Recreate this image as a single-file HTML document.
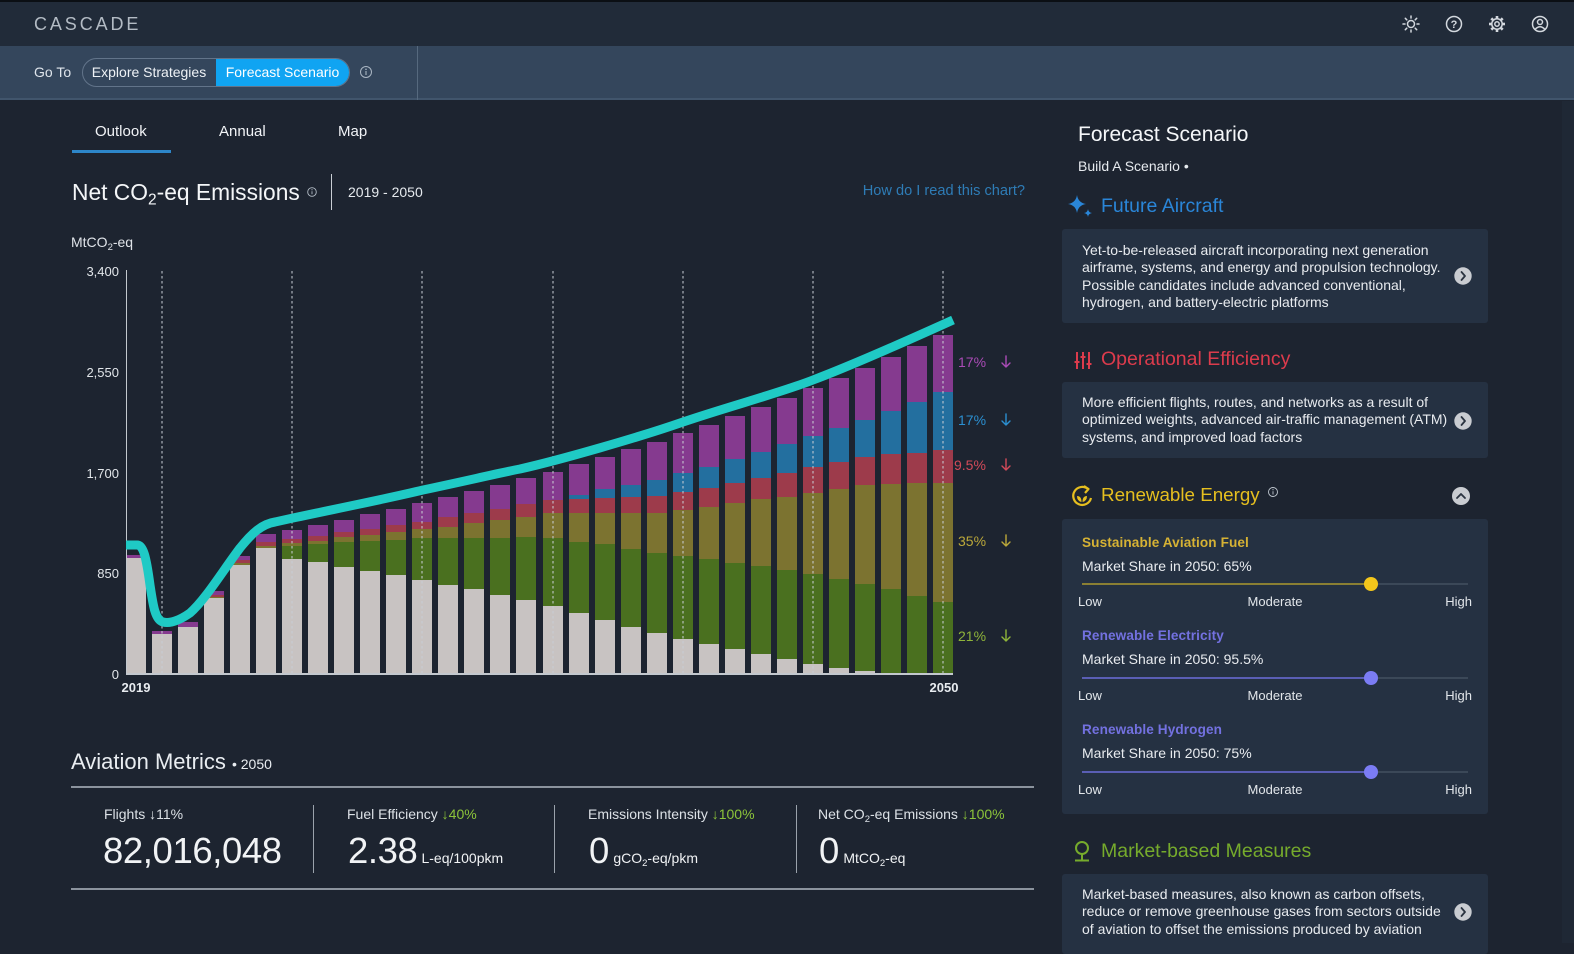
<!DOCTYPE html>
<html><head><meta charset="utf-8">
<style>
*{margin:0;padding:0;box-sizing:border-box}
html,body{width:1574px;height:943px;overflow:hidden;background:#1d2430;font-family:"Liberation Sans",Arial,sans-serif;color:#e6eaee}
.a{position:absolute;white-space:nowrap;line-height:1}
sub{font-size:0.68em;vertical-align:-0.3em;line-height:0}
.card{position:absolute;left:1062px;width:426px;background:#253142;border-radius:3px}
.ct{position:absolute;left:20px;font-size:14px;line-height:17.3px;color:#e8ebef;white-space:nowrap}
.lbl{font-size:13px;color:#e2e6ea}
</style></head><body>

<!-- header -->
<div class="a" style="left:0;top:0;width:1574px;height:46px;background:#212b39;border-top:2px solid #0b0f14"></div>
<div class="a" style="left:34px;top:15px;font-size:18px;letter-spacing:2.9px;color:#b3bbc4">CASCADE</div>
<svg class="a" style="left:1390px;top:8px" width="170" height="32" viewBox="1390 8 170 32">
  <g fill="none" stroke="#d3d8de" stroke-width="1.5">
    <circle cx="1411" cy="24" r="3.5"/>
    <g stroke-linecap="round">
      <line x1="1411" y1="16" x2="1411" y2="18"/><line x1="1411" y1="30" x2="1411" y2="32"/>
      <line x1="1403" y1="24" x2="1405" y2="24"/><line x1="1417" y1="24" x2="1419" y2="24"/>
      <line x1="1405.3" y1="18.3" x2="1406.8" y2="19.8"/><line x1="1415.2" y1="28.2" x2="1416.7" y2="29.7"/>
      <line x1="1405.3" y1="29.7" x2="1406.8" y2="28.2"/><line x1="1415.2" y1="19.8" x2="1416.7" y2="18.3"/>
    </g>
    <circle cx="1454" cy="24" r="7.5"/>
    <circle cx="1497" cy="24" r="5.2"/>
    <circle cx="1497" cy="24" r="2.2"/>
    <g stroke-width="2.6">
      <line x1="1497" y1="16" x2="1497" y2="18.5"/><line x1="1497" y1="29.5" x2="1497" y2="32"/>
      <line x1="1489" y1="24" x2="1491.5" y2="24"/><line x1="1502.5" y1="24" x2="1505" y2="24"/>
      <line x1="1491.3" y1="18.3" x2="1493" y2="20"/><line x1="1501" y1="28" x2="1502.7" y2="29.7"/>
      <line x1="1491.3" y1="29.7" x2="1493" y2="28"/><line x1="1501" y1="20" x2="1502.7" y2="18.3"/>
    </g>
    <circle cx="1540" cy="24" r="7.5"/>
    <circle cx="1540" cy="22" r="2.5"/>
    <path d="M1535,29.5 Q1540,24 1545,29.5"/>
  </g>
  <text x="1454" y="28" font-size="11" font-weight="bold" fill="#d3d8de" text-anchor="middle" font-family="Liberation Sans">?</text>
</svg>

<!-- subheader -->
<div class="a" style="left:0;top:46px;width:1574px;height:54px;background:#34465c;border-bottom:2px solid #41556c"></div>
<div class="a" style="left:417px;top:46px;width:1px;height:54px;background:#56697e"></div>
<div class="a" style="left:34px;top:65px;font-size:14px;color:#dfe5ec">Go To</div>
<div class="a" style="left:82px;top:58px;width:268px;height:29px;border:1px solid #62748a;border-radius:15px;overflow:hidden">
  <div class="a" style="left:133px;top:-1px;width:135px;height:29px;background:#10a4f2"></div>
</div>
<div class="a" style="left:82px;top:65px;width:134px;text-align:center;font-size:14px;color:#eef2f6">Explore Strategies</div>
<div class="a" style="left:215px;top:65px;width:135px;text-align:center;font-size:14px;color:#ffffff">Forecast Scenario</div>
<svg class="a" style="left:359px;top:65px" width="14" height="14"><circle cx="7" cy="7" r="5.5" fill="none" stroke="#aab6c3" stroke-width="1"/><line x1="7" y1="6" x2="7" y2="10" stroke="#aab6c3" stroke-width="1.1"/><circle cx="7" cy="4.3" r="0.8" fill="#aab6c3"/></svg>

<!-- tabs -->
<div class="a" style="left:95px;top:124px;font-size:15px;color:#f2f4f7">Outlook</div>
<div class="a" style="left:219px;top:124px;font-size:15px;color:#f2f4f7">Annual</div>
<div class="a" style="left:338px;top:124px;font-size:15px;color:#f2f4f7">Map</div>
<div class="a" style="left:72px;top:150px;width:99px;height:3px;background:#2d86c9"></div>

<!-- chart title -->
<div class="a" style="left:72px;top:181px;font-size:22.8px;color:#f4f6f8">Net CO<sub>2</sub>-eq Emissions</div>
<svg class="a" style="left:306px;top:186px" width="12" height="12"><circle cx="6" cy="6" r="4.3" fill="none" stroke="#b5bec8" stroke-width="0.9"/><line x1="6" y1="5.2" x2="6" y2="8.3" stroke="#b5bec8" stroke-width="0.9"/><circle cx="6" cy="3.8" r="0.6" fill="#b5bec8"/></svg>
<div class="a" style="left:331px;top:174px;width:1px;height:36px;background:#c9ced4"></div>
<div class="a" style="left:348px;top:185px;font-size:14px;color:#e6eaee">2019 - 2050</div>
<div class="a" style="left:855px;top:184px;width:170px;text-align:right;font-size:14.6px;color:#2e7cb6">How do I read this chart?</div>

<div class="a" style="left:71px;top:235px;font-size:14px;color:#dfe3e8">MtCO<sub>2</sub>-eq</div>

<!-- chart -->
<svg class="a" style="left:0;top:0" width="1060" height="720">
  <g font-family="Liberation Sans" font-size="13" fill="#e2e6ea" text-anchor="end">
    <text x="119" y="276">3,400</text>
    <text x="119" y="377">2,550</text>
    <text x="119" y="478">1,700</text>
    <text x="119" y="578">850</text>
    <text x="119" y="679">0</text>
  </g>
  <g font-family="Liberation Sans" font-size="13" font-weight="bold" fill="#e8ecf0" text-anchor="middle">
    <text x="136" y="692">2019</text>
    <text x="944" y="692">2050</text>
  </g>
  <g>
  <g fill="#c8c3c2">
    <rect x="126" y="558" width="20" height="116"/>
    <rect x="152" y="634" width="20" height="40"/>
    <rect x="178" y="627" width="20" height="47"/>
    <rect x="204" y="598" width="20" height="76"/>
    <rect x="230" y="565" width="20" height="109"/>
    <rect x="256" y="548" width="20" height="126"/>
    <rect x="282" y="559" width="20" height="115"/>
    <rect x="308" y="562" width="20" height="112"/>
    <rect x="334" y="567" width="20" height="107"/>
    <rect x="360" y="571" width="20" height="103"/>
    <rect x="386" y="575" width="20" height="99"/>
    <rect x="412" y="580" width="20" height="94"/>
    <rect x="438" y="585" width="20" height="89"/>
    <rect x="464" y="589" width="20" height="85"/>
    <rect x="490" y="595" width="20" height="79"/>
    <rect x="516" y="600" width="20" height="74"/>
    <rect x="543" y="606" width="20" height="68"/>
    <rect x="569" y="613" width="20" height="61"/>
    <rect x="595" y="620" width="20" height="54"/>
    <rect x="621" y="627" width="20" height="47"/>
    <rect x="647" y="633" width="20" height="41"/>
    <rect x="673" y="639" width="20" height="35"/>
    <rect x="699" y="644" width="20" height="30"/>
    <rect x="725" y="649" width="20" height="25"/>
    <rect x="751" y="654" width="20" height="20"/>
    <rect x="777" y="659" width="20" height="15"/>
    <rect x="803" y="664" width="20" height="10"/>
    <rect x="829" y="668" width="20" height="6"/>
    <rect x="855" y="671" width="20" height="3"/>
  </g>
  <g fill="#4a701f">
    <rect x="282" y="546" width="20" height="13"/>
    <rect x="308" y="544" width="20" height="18"/>
    <rect x="334" y="542" width="20" height="25"/>
    <rect x="360" y="541" width="20" height="30"/>
    <rect x="386" y="540" width="20" height="35"/>
    <rect x="412" y="538" width="20" height="42"/>
    <rect x="438" y="538" width="20" height="47"/>
    <rect x="464" y="538" width="20" height="51"/>
    <rect x="490" y="538" width="20" height="57"/>
    <rect x="516" y="537" width="20" height="63"/>
    <rect x="543" y="538" width="20" height="68"/>
    <rect x="569" y="542" width="20" height="71"/>
    <rect x="595" y="544" width="20" height="76"/>
    <rect x="621" y="549" width="20" height="78"/>
    <rect x="647" y="553" width="20" height="80"/>
    <rect x="673" y="556" width="20" height="83"/>
    <rect x="699" y="559" width="20" height="85"/>
    <rect x="725" y="563" width="20" height="86"/>
    <rect x="751" y="566" width="20" height="88"/>
    <rect x="777" y="570" width="20" height="89"/>
    <rect x="803" y="574" width="20" height="90"/>
    <rect x="829" y="579" width="20" height="89"/>
    <rect x="855" y="584" width="20" height="87"/>
    <rect x="881" y="589" width="20" height="85"/>
    <rect x="907" y="596" width="20" height="78"/>
    <rect x="933" y="602" width="20" height="72"/>
  </g>
  <g fill="#7c7330">
    <rect x="204" y="597" width="20" height="1"/>
    <rect x="230" y="563" width="20" height="2"/>
    <rect x="256" y="546" width="20" height="2"/>
    <rect x="282" y="543" width="20" height="3"/>
    <rect x="308" y="541" width="20" height="3"/>
    <rect x="334" y="537" width="20" height="5"/>
    <rect x="360" y="535" width="20" height="6"/>
    <rect x="386" y="532" width="20" height="8"/>
    <rect x="412" y="529" width="20" height="9"/>
    <rect x="438" y="527" width="20" height="11"/>
    <rect x="464" y="523" width="20" height="15"/>
    <rect x="490" y="520" width="20" height="18"/>
    <rect x="516" y="517" width="20" height="20"/>
    <rect x="543" y="513" width="20" height="25"/>
    <rect x="569" y="513" width="20" height="29"/>
    <rect x="595" y="513" width="20" height="31"/>
    <rect x="621" y="513" width="20" height="36"/>
    <rect x="647" y="513" width="20" height="40"/>
    <rect x="673" y="510" width="20" height="46"/>
    <rect x="699" y="507" width="20" height="52"/>
    <rect x="725" y="503" width="20" height="60"/>
    <rect x="751" y="499" width="20" height="67"/>
    <rect x="777" y="497" width="20" height="73"/>
    <rect x="803" y="493" width="20" height="81"/>
    <rect x="829" y="489" width="20" height="90"/>
    <rect x="855" y="485" width="20" height="99"/>
    <rect x="881" y="484" width="20" height="105"/>
    <rect x="907" y="483" width="20" height="113"/>
    <rect x="933" y="483" width="20" height="119"/>
  </g>
  <g fill="#9d3b4b">
    <rect x="204" y="595" width="20" height="2"/>
    <rect x="230" y="560" width="20" height="3"/>
    <rect x="256" y="542" width="20" height="4"/>
    <rect x="282" y="539" width="20" height="4"/>
    <rect x="308" y="536" width="20" height="5"/>
    <rect x="334" y="532" width="20" height="5"/>
    <rect x="360" y="529" width="20" height="6"/>
    <rect x="386" y="525" width="20" height="7"/>
    <rect x="412" y="522" width="20" height="7"/>
    <rect x="438" y="517" width="20" height="10"/>
    <rect x="464" y="513" width="20" height="10"/>
    <rect x="490" y="509" width="20" height="11"/>
    <rect x="516" y="504" width="20" height="13"/>
    <rect x="543" y="500" width="20" height="13"/>
    <rect x="569" y="499" width="20" height="14"/>
    <rect x="595" y="498" width="20" height="15"/>
    <rect x="621" y="497" width="20" height="16"/>
    <rect x="647" y="496" width="20" height="17"/>
    <rect x="673" y="492" width="20" height="18"/>
    <rect x="699" y="488" width="20" height="19"/>
    <rect x="725" y="483" width="20" height="20"/>
    <rect x="751" y="478" width="20" height="21"/>
    <rect x="777" y="473" width="20" height="24"/>
    <rect x="803" y="467" width="20" height="26"/>
    <rect x="829" y="462" width="20" height="27"/>
    <rect x="855" y="457" width="20" height="28"/>
    <rect x="881" y="454" width="20" height="30"/>
    <rect x="907" y="453" width="20" height="30"/>
    <rect x="933" y="450" width="20" height="33"/>
  </g>
  <g fill="#236f9f">
    <rect x="569" y="495" width="20" height="4"/>
    <rect x="595" y="489" width="20" height="9"/>
    <rect x="621" y="485" width="20" height="12"/>
    <rect x="647" y="480" width="20" height="16"/>
    <rect x="673" y="473" width="20" height="19"/>
    <rect x="699" y="467" width="20" height="21"/>
    <rect x="725" y="459" width="20" height="24"/>
    <rect x="751" y="452" width="20" height="26"/>
    <rect x="777" y="444" width="20" height="29"/>
    <rect x="803" y="436" width="20" height="31"/>
    <rect x="829" y="428" width="20" height="34"/>
    <rect x="855" y="420" width="20" height="37"/>
    <rect x="881" y="411" width="20" height="43"/>
    <rect x="907" y="402" width="20" height="51"/>
    <rect x="933" y="392" width="20" height="58"/>
  </g>
  <g fill="#853a8f">
    <rect x="126" y="555" width="20" height="3"/>
    <rect x="152" y="631" width="20" height="3"/>
    <rect x="178" y="622" width="20" height="5"/>
    <rect x="204" y="591" width="20" height="4"/>
    <rect x="230" y="556" width="20" height="4"/>
    <rect x="256" y="534" width="20" height="8"/>
    <rect x="282" y="530" width="20" height="9"/>
    <rect x="308" y="525" width="20" height="11"/>
    <rect x="334" y="520" width="20" height="12"/>
    <rect x="360" y="514" width="20" height="15"/>
    <rect x="386" y="509" width="20" height="16"/>
    <rect x="412" y="503" width="20" height="19"/>
    <rect x="438" y="497" width="20" height="20"/>
    <rect x="464" y="491" width="20" height="22"/>
    <rect x="490" y="485" width="20" height="24"/>
    <rect x="516" y="478" width="20" height="26"/>
    <rect x="543" y="472" width="20" height="28"/>
    <rect x="569" y="464" width="20" height="31"/>
    <rect x="595" y="457" width="20" height="32"/>
    <rect x="621" y="449" width="20" height="36"/>
    <rect x="647" y="442" width="20" height="38"/>
    <rect x="673" y="433" width="20" height="40"/>
    <rect x="699" y="425" width="20" height="42"/>
    <rect x="725" y="416" width="20" height="43"/>
    <rect x="751" y="407" width="20" height="45"/>
    <rect x="777" y="398" width="20" height="46"/>
    <rect x="803" y="388" width="20" height="48"/>
    <rect x="829" y="378" width="20" height="50"/>
    <rect x="855" y="368" width="20" height="52"/>
    <rect x="881" y="357" width="20" height="54"/>
    <rect x="907" y="346" width="20" height="56"/>
    <rect x="933" y="335" width="20" height="57"/>
  </g>
  </g>
  <g stroke="#c9ced4" stroke-width="1.2" stroke-dasharray="2.5 2.5" opacity="0.85">
    <line x1="162" y1="271" x2="162" y2="673"/>
    <line x1="292" y1="271" x2="292" y2="673"/>
    <line x1="422" y1="271" x2="422" y2="673"/>
    <line x1="553" y1="271" x2="553" y2="673"/>
    <line x1="683" y1="271" x2="683" y2="673"/>
    <line x1="813" y1="271" x2="813" y2="673"/>
    <line x1="943" y1="271" x2="943" y2="673"/>
  </g>
  <line x1="126.5" y1="270" x2="126.5" y2="674" stroke="#c3c8ce" stroke-width="1"/>
  <line x1="126" y1="674" x2="953" y2="674" stroke="#c3c8ce" stroke-width="2"/>
  <path d="M126,545 L137,545 C143,545 146,555 150,585 C153,605 155,620 163,622 C170,624 180,620 190,613 C205,600 222,572 240,548 C252,533 262,524 275,522 L293,518 C340,508 390,498 423,490 C470,480 495,474 520,469 C560,460 640,437 683,422 C730,406 780,393 813,380 C850,366 900,344 953,320" fill="none" stroke="#1fcac5" stroke-width="9" stroke-linejoin="round"/>
  <g font-family="Liberation Sans" font-size="14">
    <text x="958" y="367" fill="#aa4bb6">17%</text>
    <text x="958" y="425" fill="#2b8fd0">17%</text>
    <text x="954" y="470" fill="#d24a59">9.5%</text>
    <text x="958" y="546" fill="#bba83a">35%</text>
    <text x="958" y="641" fill="#8fb43a">21%</text>
  </g>
  <g fill="none" stroke-width="1.4" stroke-linecap="round" stroke-linejoin="round">
    <path d="M1006,356 V367 M1002,363 L1006,367 L1010,363" stroke="#aa4bb6"/>
    <path d="M1006,414 V425 M1002,421 L1006,425 L1010,421" stroke="#2b8fd0"/>
    <path d="M1006,459 V470 M1002,466 L1006,470 L1010,466" stroke="#d24a59"/>
    <path d="M1006,535 V546 M1002,542 L1006,546 L1010,542" stroke="#bba83a"/>
    <path d="M1006,630 V641 M1002,637 L1006,641 L1010,637" stroke="#8fb43a"/>
  </g>
</svg>

<!-- Aviation metrics -->
<div class="a" style="left:71px;top:751px;font-size:22px;color:#e9edf1">Aviation Metrics <span style="font-size:14px">&#8226; 2050</span></div>
<div class="a" style="left:71px;top:786px;width:963px;height:2px;background:#8b939d"></div>
<div class="a" style="left:71px;top:888px;width:963px;height:2px;background:#8b939d"></div>
<div class="a" style="left:313px;top:805px;width:1px;height:68px;background:#9aa2ab"></div>
<div class="a" style="left:554px;top:805px;width:1px;height:68px;background:#9aa2ab"></div>
<div class="a" style="left:796px;top:805px;width:1px;height:68px;background:#9aa2ab"></div>

<div class="a" style="left:104px;top:807px;font-size:14px;color:#dce1e6">Flights &#8595;11%</div>
<div class="a" style="left:103px;top:833px;font-size:36.5px;letter-spacing:-0.4px;color:#f1f3f5">82,016,048</div>

<div class="a" style="left:347px;top:807px;font-size:14px;color:#dce1e6">Fuel Efficiency <span style="color:#8cc43a">&#8595;40%</span></div>
<div class="a" style="left:348px;top:833px;font-size:36.5px;letter-spacing:-0.4px;color:#f1f3f5">2.38<span style="font-size:14px;letter-spacing:0;margin-left:4px">L-eq/100pkm</span></div>

<div class="a" style="left:588px;top:807px;font-size:14px;color:#dce1e6">Emissions Intensity <span style="color:#8cc43a">&#8595;100%</span></div>
<div class="a" style="left:589px;top:833px;font-size:36.5px;color:#f1f3f5">0<span style="font-size:14px;margin-left:4px">gCO<sub>2</sub>-eq/pkm</span></div>

<div class="a" style="left:818px;top:807px;font-size:14px;color:#dce1e6">Net CO<sub>2</sub>-eq Emissions <span style="color:#8cc43a">&#8595;100%</span></div>
<div class="a" style="left:819px;top:833px;font-size:36.5px;color:#f1f3f5">0<span style="font-size:14px;margin-left:4px">MtCO<sub>2</sub>-eq</span></div>

<!-- right panel -->
<div class="a" style="left:1562px;top:101px;width:12px;height:842px;background:#1f2835"></div>
<div class="a" style="left:1078px;top:124px;font-size:21px;color:#f5f7f9">Forecast Scenario</div>
<div class="a" style="left:1078px;top:159px;font-size:14px;color:#e6eaee">Build A Scenario &#8226;</div>

<svg class="a" style="left:1066px;top:193px" width="30" height="26">
  <path d="M11,2 Q12.2,9.8 20,11 Q12.2,12.2 11,20 Q9.8,12.2 2,11 Q9.8,9.8 11,2Z" fill="#2a86d8"/>
  <path d="M22,16 Q22.5,19.5 26,20 Q22.5,20.5 22,24 Q21.5,20.5 18,20 Q21.5,19.5 22,16Z" fill="#2a86d8"/>
</svg>
<div class="a" style="left:1101px;top:197px;font-size:19.5px;color:#2a86d8">Future Aircraft</div>
<div class="card" style="top:229px;height:94px">
  <div class="ct" style="top:13px">Yet-to-be-released aircraft incorporating next generation<br>airframe, systems, and energy and propulsion technology.<br>Possible candidates include advanced conventional,<br>hydrogen, and battery-electric platforms</div>
</div>

<svg class="a" style="left:1074px;top:350px" width="22" height="22">
  <g stroke="#dc3b4c" stroke-width="2" fill="none">
    <line x1="3" y1="2" x2="3" y2="19"/><line x1="9" y1="2" x2="9" y2="19"/><line x1="15" y1="2" x2="15" y2="19"/>
    <line x1="0.5" y1="12" x2="5.5" y2="12"/><line x1="6.5" y1="7" x2="11.5" y2="7"/><line x1="12.5" y1="14" x2="17.5" y2="14"/>
  </g>
</svg>
<div class="a" style="left:1101px;top:350px;font-size:19.5px;color:#dc3b4c">Operational Efficiency</div>
<div class="card" style="top:382px;height:76px">
  <div class="ct" style="top:12px">More efficient flights, routes, and networks as a result of<br>optimized weights, advanced air-traffic management (ATM)<br>systems, and improved load factors</div>
</div>

<svg class="a" style="left:1070px;top:484px" width="26" height="25">
  <g fill="none" stroke="#e6bf1f" stroke-width="2.2">
    <path d="M18,5 A9,9 0 1 0 21,14"/>
    <path d="M14,2 L18.5,5 L15,9" stroke-linejoin="round"/>
  </g>
  <path d="M11.5,18 Q7,17 7,12 Q11.5,12 11.5,18Z M12.5,18 Q17,17 17,12 Q12.5,12 12.5,18Z" fill="#e6bf1f"/>
</svg>
<div class="a" style="left:1101px;top:486px;font-size:18.8px;color:#e6bf1f">Renewable Energy</div>
<svg class="a" style="left:1267px;top:486px" width="12" height="12"><circle cx="6" cy="6" r="4.5" fill="none" stroke="#c0c8d0" stroke-width="0.9"/><line x1="6" y1="5.2" x2="6" y2="8.5" stroke="#c0c8d0" stroke-width="0.9"/><circle cx="6" cy="3.7" r="0.6" fill="#c0c8d0"/></svg>

<div class="card" style="top:519px;height:295px">
  <div class="a" style="left:20px;top:17px;font-size:13.6px;font-weight:bold;color:#d6b234;letter-spacing:0.1px">Sustainable Aviation Fuel</div>
  <div class="a" style="left:20px;top:40px;font-size:14px;color:#e8ebef">Market Share in 2050: 65%</div>
  <div class="a" style="left:20px;top:64px;width:386px;height:2px;background:#3b4858"></div>
  <div class="a" style="left:20px;top:64px;width:289px;height:2px;background:#8a7f33"></div>
  <div class="a" style="left:302px;top:58px;width:14px;height:14px;border-radius:7px;background:#f4c71b"></div>
  <div class="a lbl" style="left:16px;top:76px">Low</div>
  <div class="a lbl" style="left:163px;top:76px;width:100px;text-align:center">Moderate</div>
  <div class="a lbl" style="left:350px;top:76px;width:60px;text-align:right">High</div>

  <div class="a" style="left:20px;top:110px;font-size:13.6px;font-weight:bold;color:#7371e0;letter-spacing:0.1px">Renewable Electricity</div>
  <div class="a" style="left:20px;top:133px;font-size:14px;color:#e8ebef">Market Share in 2050: 95.5%</div>
  <div class="a" style="left:20px;top:158px;width:386px;height:2px;background:#3b4858"></div>
  <div class="a" style="left:20px;top:158px;width:289px;height:2px;background:#5a5eb4"></div>
  <div class="a" style="left:302px;top:152px;width:14px;height:14px;border-radius:7px;background:#7b7cf4"></div>
  <div class="a lbl" style="left:16px;top:170px">Low</div>
  <div class="a lbl" style="left:163px;top:170px;width:100px;text-align:center">Moderate</div>
  <div class="a lbl" style="left:350px;top:170px;width:60px;text-align:right">High</div>

  <div class="a" style="left:20px;top:204px;font-size:13.6px;font-weight:bold;color:#7371e0;letter-spacing:0.1px">Renewable Hydrogen</div>
  <div class="a" style="left:20px;top:227px;font-size:14px;color:#e8ebef">Market Share in 2050: 75%</div>
  <div class="a" style="left:20px;top:252px;width:386px;height:2px;background:#3b4858"></div>
  <div class="a" style="left:20px;top:252px;width:289px;height:2px;background:#5a5eb4"></div>
  <div class="a" style="left:302px;top:246px;width:14px;height:14px;border-radius:7px;background:#7b7cf4"></div>
  <div class="a lbl" style="left:16px;top:264px">Low</div>
  <div class="a lbl" style="left:163px;top:264px;width:100px;text-align:center">Moderate</div>
  <div class="a lbl" style="left:350px;top:264px;width:60px;text-align:right">High</div>
</div>

<svg class="a" style="left:1072px;top:840px" width="24" height="24">
  <g fill="none" stroke="#76ab2c" stroke-width="2">
    <circle cx="10" cy="8" r="6"/>
    <line x1="10" y1="14" x2="10" y2="20"/>
    <line x1="3" y1="20.5" x2="17" y2="20.5"/>
  </g>
</svg>
<div class="a" style="left:1101px;top:842px;font-size:19.5px;color:#76ab2c">Market-based Measures</div>
<div class="card" style="top:874px;height:80px">
  <div class="ct" style="top:12px">Market-based measures, also known as carbon offsets,<br>reduce or remove greenhouse gases from sectors outside<br>of aviation to offset the emissions produced by aviation</div>
</div>

<svg class="a" style="left:1440px;top:260px" width="40" height="670" viewBox="1440 260 40 670">
  <g fill="#c9ccd1">
    <circle cx="1463" cy="276" r="8.7"/>
    <circle cx="1463" cy="421" r="8.7"/>
    <circle cx="1461" cy="496" r="9"/>
    <circle cx="1463" cy="912" r="8.7"/>
  </g>
  <g fill="none" stroke="#2a3340" stroke-width="1.8" stroke-linecap="round" stroke-linejoin="round">
    <path d="M1461.5,272 L1465,276 L1461.5,280"/>
    <path d="M1461.5,417 L1465,421 L1461.5,425"/>
    <path d="M1457,498 L1461,494 L1465,498"/>
    <path d="M1461.5,908 L1465,912 L1461.5,916"/>
  </g>
</svg>

</body></html>
